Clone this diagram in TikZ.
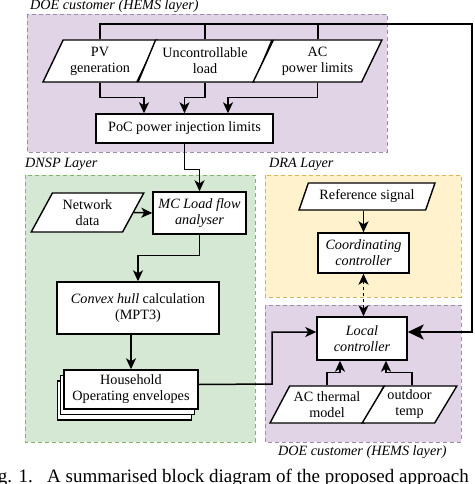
\documentclass[tikz,border=0pt]{standalone}
\usepackage{fontspec}
\setmainfont{Liberation Serif}
\usetikzlibrary{shapes.geometric,arrows.meta,shadows,calc}
\definecolor{purpfill}{HTML}{E0D4E6}
\definecolor{purpline}{HTML}{9E8AAE}
\definecolor{greenfill}{HTML}{D5E8D4}
\definecolor{greenline}{HTML}{82B366}
\definecolor{yelfill}{HTML}{FFF2CC}
\definecolor{yelline}{HTML}{D6B656}
\newcommand\dfont{\fontsize{14.2}{16}\selectfont}
\begin{document}
\begin{tikzpicture}[x=1pt,y=-1pt,
  region/.style={dash pattern=on 4pt off 3pt, line width=0.9pt},
  box/.style={draw, line width=1.4pt, fill=white, align=center, inner sep=0pt, font=\dfont},
  ibox/.style={box, font=\dfont\itshape},
  para/.style={trapezium, trapezium left angle=60, trapezium right angle=120, trapezium stretches=true,
    draw, line width=1.4pt, fill=white, align=center, inner sep=0pt, font=\dfont},
  paraB/.style={para, trapezium left angle=56, trapezium right angle=124},
  lbl/.style={font=\dfont\itshape, inner sep=0pt, anchor=base west},
  tip/.style={-{Stealth[length=11pt,width=10pt,inset=3pt]}},
  conn/.style={line width=1.5pt, tip},
  busline/.style={line width=2pt},
  bigtip/.style={-{Stealth[length=16pt,width=15pt,inset=4pt]}}
]
\useasboundingbox (0,0) rectangle (474,484);

% regions
\draw[region, draw=purpline, fill=purpfill] (27,14) rectangle (387,152);
\draw[region, draw=greenline, fill=greenfill] (25,175) rectangle (255,442);
\draw[region, draw=yelline, fill=yelfill] (265,175) rectangle (461,297);
\draw[region, draw=purpline, fill=purpfill] (265,305) rectangle (461,442);

\node[lbl] (labtop) at (30,9.5) {DOE customer (HEMS layer)};
\node[lbl] (labdnsp) at (25,167) {DNSP Layer};
\node[lbl] (labdra) at (269,167) {DRA Layer};
\node[lbl] (labbot) at (278,455) {DOE customer (HEMS layer)};

% nodes
\node[para, minimum width=115pt, minimum height=42pt] (pv) at (100,61) {PV\\generation};
\node[para, minimum width=134pt, minimum height=42pt] (unc) at (205,61) {Uncontrollable\\load};
\node[para, minimum width=129pt, minimum height=42pt] (ac) at (317.5,61) {AC\\power limits};
\node[box, minimum width=177pt, minimum height=29pt] (poc) at (184.5,128.5) {PoC power injection limits};

\node[para, minimum width=113pt, minimum height=39pt] (net) at (87.5,212.5) {Network\\data};
\node[ibox, minimum width=93pt, minimum height=42pt] (mc) at (199.5,213) {MC Load flow\\analyser};
\node[box, minimum width=162pt, minimum height=52pt] (conv) at (138,308) {\textit{Convex hull} calculation\\(MPT3)};
\node[box, minimum width=134pt, minimum height=39pt,
  double copy shadow={shadow xshift=-3.3pt, shadow yshift=-5.5pt, draw, fill=white, line width=1.4pt}] (hh) at (131,389.5) {Household\\Operating envelopes};

\node[para, minimum width=136pt, minimum height=27pt] (ref) at (367,196.5) {Reference signal};
\node[ibox, minimum width=91pt, minimum height=40pt] (coord) at (363.5,253) {Coordinating\\controller};
\node[ibox, minimum width=90pt, minimum height=43pt] (local) at (362,338.5) {Local\\controller};
\node[paraB, minimum width=114pt, minimum height=37pt] (acm) at (327,404.5) {AC thermal\\model};
\node[paraB, minimum width=95pt, minimum height=37pt] (out) at (409.5,404.5) {outdoor\\temp};

\coordinate (busR) at (472,24);

% connectors
\draw[busline, bigtip] (pv.north) |- (busR) |- ([yshift=6.5pt]local.east);
\draw[busline] (unc.north) -- (unc.north |- busR);
\draw[busline] (ac.north) -- (ac.north |- busR);

\draw[conn] (pv.south) -- ++(0,15) -| ([xshift=-40.5pt]poc.north);
\draw[conn] (unc.south) -- ++(0,15) -| (poc.north);
\draw[conn] (ac.south) -- ++(0,15) -| ([xshift=43.5pt]poc.north);

\draw[conn] (poc.south) -- ++(0,26) -| (mc.north);
\draw[conn] (net.east) -- (mc.west);
\draw[conn] (mc.south) -- ++(0,21) -| (conv.north);
\draw[conn] (hh.north |- conv.south) -- (hh.north);
\draw[conn] ([yshift=5pt]hh.east) -- (272,384) |- ([yshift=6.5pt]local.west);

\draw[conn] (coord.north |- ref.south) -- (coord.north);
\draw[line width=1.5pt, dashed, {Stealth[length=11pt,width=10pt,inset=3pt]}-{Stealth[length=11pt,width=10pt,inset=3pt]}] (coord.south) -- (coord.south |- local.north);
\draw[conn] (acm.north) -- ++(0,-13) -| ([xshift=-22pt]local.south);
\draw[conn] ([xshift=2.5pt]out.north) -- ++(0,-13) -| ([xshift=24pt]local.south);

% caption
\node[inner sep=0pt, anchor=base east, font=\fontsize{19}{22}\selectfont] (figlab) at (33,482) {Fig. 1.};
\node[inner sep=0pt, anchor=base west, font=\fontsize{19}{22}\selectfont] (caption) at (47,482) {A summarised block diagram of the proposed approach};
\end{tikzpicture}
\end{document}
